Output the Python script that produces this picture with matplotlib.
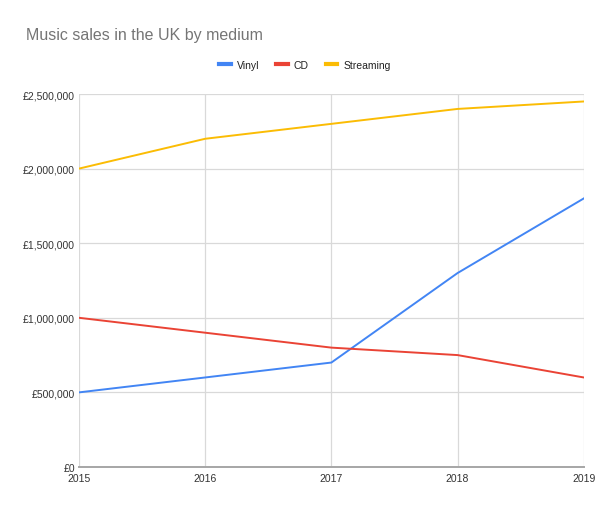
import matplotlib.pyplot as plt
from matplotlib.ticker import FuncFormatter

plt.rcParams['font.family'] = ['Liberation Sans', 'DejaVu Sans']

years = [2015, 2016, 2017, 2018, 2019]
vinyl = [500000, 600000, 700000, 1300000, 1800000]
cd = [1000000, 900000, 800000, 750000, 600000]
streaming = [2000000, 2200000, 2300000, 2400000, 2450000]

fig = plt.figure(figsize=(6.1, 5.1), dpi=100)
ax = fig.add_axes([0.1295, 0.0824, 0.8275, 0.7313])

ax.plot(years, vinyl, color="#4285f4", lw=1.4, label="Vinyl")
ax.plot(years, cd, color="#ea4335", lw=1.4, label="CD")
ax.plot(years, streaming, color="#fbbc04", lw=1.4, label="Streaming")

ax.set_xlim(2015, 2019)
ax.set_ylim(0, 2500000)
ax.set_xticks(years)
ax.set_yticks(range(0, 2500001, 500000))
ax.yaxis.set_major_formatter(FuncFormatter(lambda v, p: "£{:,.0f}".format(v)))

ax.grid(True, color="#d9d9d9", lw=0.9)
ax.set_axisbelow(True)
for s in ["top", "right", "left"]:
    ax.spines[s].set_visible(False)
ax.spines["bottom"].set_color("#a6a6a6")
ax.spines["bottom"].set_linewidth(1.4)
ax.tick_params(length=0, labelsize=7.5, colors="#333333")
ax.tick_params(axis="x", pad=4)
ax.tick_params(axis="y", pad=3)

fig.text(0.043, 0.93, "Music sales in the UK by medium", fontsize=11.5,
         color="#757575", va="center", ha="left")
fig.legend(loc="center", bbox_to_anchor=(0.5, 0.871), ncol=3, frameon=False,
           fontsize=7.5, handlelength=1.1, handletextpad=0.6, columnspacing=1.6,
           labelcolor="#222222")
for line in fig.legends[0].get_lines():
    line.set_linewidth(3)

fig.savefig("out.png", dpi=100)
